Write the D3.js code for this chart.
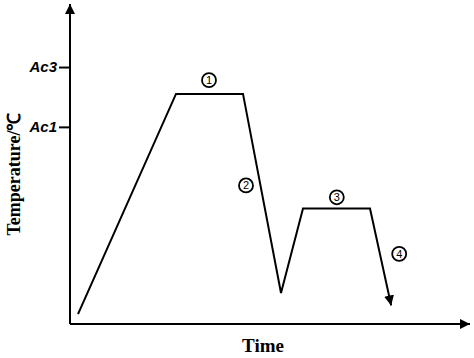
<!DOCTYPE html>
<html><head><meta charset="utf-8">
<script src="https://cdn.jsdelivr.net/npm/d3@7"></script>
<style>body{margin:0;background:#fff}</style>
</head><body>
<script>
// Data (abstract units: time 0-100, temperature 0-100)
const times = [2, 26.5, 43.25, 52.75, 58.25, 75, 80.3];
const temps = [3.1, 71.9, 71.9, 9.7, 36.1, 36.1, 5.8];
const tickValues = [80.3, 61.6];
const tickLabels = ["Ac3", "Ac1"];
const stageLabels = ["1", "2", "3", "4"];
const stageTimes = [34.75, 44, 66.7, 82.3];
const stageTemps = [76.2, 43.3, 39.6, 21.9];

const W = 474, H = 358;
const svg = d3.select("body").append("svg").attr("width", W).attr("height", H);
const x = d3.scaleLinear().domain([0, 100]).range([70, 470]);
const y = d3.scaleLinear().domain([0, 100]).range([324, 4]);

const defs = svg.append("defs");
defs.append("marker").attr("id", "arr").attr("viewBox", "0 0 10 10")
  .attr("refX", 10).attr("refY", 5).attr("markerWidth", 5).attr("markerHeight", 5)
  .attr("markerUnits", "strokeWidth").attr("orient", "auto")
  .append("path").attr("d", "M0,0 L10,5 L0,10 Z").attr("fill", "#000");

// y axis
const yAxis = d3.axisLeft(y).tickValues(tickValues)
  .tickFormat((d, i) => tickLabels[i]).tickSize(11).tickPadding(2);
const gy = svg.append("g").attr("transform", "translate(70,0)").call(yAxis);
gy.select(".domain").remove();
gy.selectAll(".tick line").attr("stroke", "#000").attr("stroke-width", 2);
gy.selectAll(".tick text").attr("font-family", "Liberation Sans, Arial, sans-serif")
  .attr("font-weight", "bold").attr("font-style", "italic").attr("font-size", 15).attr("fill", "#000");

// axis lines with arrows
svg.append("line").attr("x1", x(0)).attr("y1", y(0)).attr("x2", x(0)).attr("y2", y(100))
  .attr("stroke", "#000").attr("stroke-width", 2).attr("marker-end", "url(#arr)");
svg.append("line").attr("x1", x(0)).attr("y1", y(0)).attr("x2", x(100)).attr("y2", y(0))
  .attr("stroke", "#000").attr("stroke-width", 2).attr("marker-end", "url(#arr)");

// process line
const pts = times.map((t, i) => [t, temps[i]]);
svg.append("path").datum(pts)
  .attr("d", d3.line().x(d => x(d[0])).y(d => y(d[1])))
  .attr("fill", "none").attr("stroke", "#000").attr("stroke-width", 2)
  .attr("stroke-linejoin", "miter").attr("marker-end", "url(#arr)");

// stage labels (circled numbers)
const st = svg.selectAll(".stage").data(stageLabels).join("g")
  .attr("transform", (d, i) => `translate(${x(stageTimes[i])},${y(stageTemps[i])})`);
st.append("circle").attr("r", 7).attr("fill", "none").attr("stroke", "#000").attr("stroke-width", 1.8);
st.append("text").attr("text-anchor", "middle").attr("dy", "0.36em")
  .attr("font-family", "Liberation Sans, Arial, sans-serif").attr("font-size", 11).attr("fill", "#000")
  .text(d => d);

// axis titles
svg.append("text").attr("x", 263).attr("y", 352).attr("text-anchor", "middle")
  .attr("font-family", "Liberation Serif, Times New Roman, serif").attr("font-weight", "bold")
  .attr("font-size", 19).text("Time");
svg.append("text").attr("transform", "translate(20,174) rotate(-90)").attr("text-anchor", "middle")
  .attr("font-family", "Liberation Serif, Times New Roman, serif").attr("font-weight", "bold")
  .attr("font-size", 18).text("Temperature/℃");
</script>
</body></html>
